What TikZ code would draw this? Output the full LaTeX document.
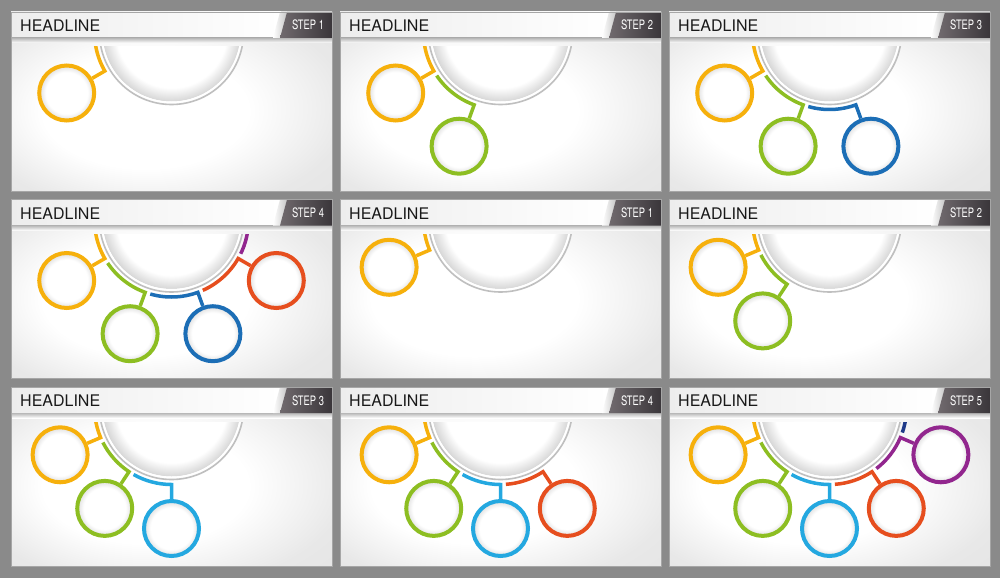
\documentclass[tikz,border=0pt]{standalone}
\usepackage{fontspec}
\newfontfamily\headfont{TeX Gyre Heros}
\newfontfamily\stepfont[FakeStretch=0.72]{TeX Gyre Heros}
\usepackage{tikz}
\definecolor{corange}{RGB}{246,176,12}
\definecolor{cgreen}{RGB}{141,190,34}
\definecolor{cblue}{RGB}{28,110,182}
\definecolor{ccyan}{RGB}{36,168,224}
\definecolor{cred}{RGB}{230,78,30}
\definecolor{cpurple}{RGB}{146,38,142}
\definecolor{cnavy}{RGB}{30,58,136}
\definecolor{backgray}{RGB}{138,138,138}
\definecolor{tabl}{RGB}{112,106,110}
\definecolor{tabr}{RGB}{58,54,58}
\pgfdeclareradialshading{discshade}{\pgfpoint{0bp}{0bp}}{color(0bp)=(white); color(20bp)=(white); color(25bp)=(black!16); color(50bp)=(black!16)}
\pgfdeclareradialshading{ringshade}{\pgfpoint{0bp}{0bp}}{color(0bp)=(white); color(19bp)=(white); color(25bp)=(black!13); color(50bp)=(black!13)}
\pgfdeclareradialshading{panelshade}{\pgfpoint{-6bp}{-4bp}}{color(0bp)=(white); color(16bp)=(white); color(30bp)=(black!9); color(50bp)=(black!12)}
\tikzstyle{ring}=[circle, minimum size=55pt, inner sep=0pt, line width=4pt, shade, shading=ringshade]
\tikzstyle{ringorange}=[ring, draw=corange]
\tikzstyle{ringgreen}=[ring, draw=cgreen]
\tikzstyle{ringblue}=[ring, draw=cblue]
\tikzstyle{ringcyan}=[ring, draw=ccyan]
\tikzstyle{ringred}=[ring, draw=cred]
\tikzstyle{ringpurple}=[ring, draw=cpurple]
\tikzstyle{arcorange}=[draw=corange, line width=3.5pt]
\tikzstyle{arcgreen}=[draw=cgreen, line width=3.5pt]
\tikzstyle{arcblue}=[draw=cblue, line width=3.5pt]
\tikzstyle{arccyan}=[draw=ccyan, line width=3.5pt]
\tikzstyle{arcred}=[draw=cred, line width=3.5pt]
\tikzstyle{arcpurple}=[draw=cpurple, line width=3.5pt]
\tikzstyle{arcnavy}=[draw=cnavy, line width=3.5pt]
\tikzstyle{headline}=[font=\headfont\fontsize{16pt}{16pt}\selectfont, inner sep=0pt, text=black!90]
\tikzstyle{steplabel}=[font=\stepfont\fontsize{13pt}{13pt}\selectfont, inner sep=0pt, text=white]
\newcommand{\panelframe}[2]{%
  \shade[shading=panelshade] (0,0) rectangle (321,179);
  \shade[left color=black!7, right color=white] (0,0) rectangle (270,26);
  \shade[top color=black!28, bottom color=white] (0,26) rectangle (321,31);
  \shade[left color=white, right color=black!22] (262,26) -- (269,0) -- (276,0) -- (269,26) -- cycle;
  \shade[left color=tabl, right color=tabr] (269,26) -- (276,0) -- (321,0) -- (321,26) -- cycle;
  \draw[black!35, line width=0.8pt] (0,0) rectangle (321,179);
  \node[headline, anchor=base west] (#1head) at (9,19.5) {HEADLINE};
  \node[steplabel, anchor=base] (#1step) at (297,18) {#2};
}
\newcommand{\bigdisc}{%
  \shade[shading=discshade] (0,0) circle[radius=69];
  \draw[white, line width=2pt] (0,0) circle[radius=70];
  \draw[black!25, line width=1.6pt] (0,0) circle[radius=72];
}
\begin{document}
\begin{tikzpicture}[x=1pt, y=-1pt]
  \useasboundingbox (0,0) rectangle (1000,578);
  \fill[backgray] (0,0) rectangle (1000,578);

  \begin{scope}[shift={(11,12)}]
    \panelframe{p1}{STEP 1}
    \begin{scope}[shift={(160.5,20.5)}]
      \clip (-170,14.5) rectangle (170,170);
      \bigdisc
      \node[ringorange] (p1o) at (150:121) {};
      \draw[arcorange] (190:77) arc[start angle=190, end angle=150, radius=77] -- (p1o);
    \end{scope}
  \end{scope}

  \begin{scope}[shift={(340,12)}]
    \panelframe{p2}{STEP 2}
    \begin{scope}[shift={(160.5,20.5)}]
      \clip (-170,14.5) rectangle (170,170);
      \bigdisc
      \node[ringorange] (p2o) at (150:121) {};
      \node[ringgreen] (p2g) at (110:121) {};
      \draw[arcorange] (190:77) arc[start angle=190, end angle=150, radius=77] -- (p2o);
      \draw[arcgreen] (146:77) arc[start angle=146, end angle=110, radius=77] -- (p2g);
    \end{scope}
  \end{scope}

  \begin{scope}[shift={(669,12)}]
    \panelframe{p3}{STEP 3}
    \begin{scope}[shift={(160.5,20.5)}]
      \clip (-170,14.5) rectangle (170,170);
      \bigdisc
      \node[ringorange] (p3o) at (150:121) {};
      \node[ringgreen] (p3g) at (110:121) {};
      \node[ringblue] (p3b) at (70:121) {};
      \draw[arcorange] (190:77) arc[start angle=190, end angle=150, radius=77] -- (p3o);
      \draw[arcgreen] (146:77) arc[start angle=146, end angle=110, radius=77] -- (p3g);
      \draw[arcblue] (106:77) arc[start angle=106, end angle=70, radius=77] -- (p3b);
    \end{scope}
  \end{scope}

  \begin{scope}[shift={(11,199.5)}]
    \panelframe{p4}{STEP 4}
    \begin{scope}[shift={(160.5,20.5)}]
      \clip (-170,14.5) rectangle (170,170);
      \bigdisc
      \node[ringorange] (p4o) at (150:121) {};
      \node[ringgreen] (p4g) at (110:121) {};
      \node[ringblue] (p4b) at (70:121) {};
      \node[ringred] (p4r) at (30:121) {};
      \draw[arcorange] (190:77) arc[start angle=190, end angle=150, radius=77] -- (p4o);
      \draw[arcgreen] (146:77) arc[start angle=146, end angle=110, radius=77] -- (p4g);
      \draw[arcblue] (106:77) arc[start angle=106, end angle=70, radius=77] -- (p4b);
      \draw[arcred] (66:77) arc[start angle=66, end angle=30, radius=77] -- (p4r);
      \draw[arcpurple] (26:77) arc[start angle=26, end angle=0, radius=77];
    \end{scope}
  \end{scope}

  \begin{scope}[shift={(340,199.5)}]
    \panelframe{p5}{STEP 1}
    \begin{scope}[shift={(160.5,20.5)}]
      \clip (-170,14.5) rectangle (170,170);
      \bigdisc
      \node[ringorange] (p5o) at (157:121) {};
      \draw[arcorange] (190:77) arc[start angle=190, end angle=157, radius=77] -- (p5o);
    \end{scope}
  \end{scope}

  \begin{scope}[shift={(669,199.5)}]
    \panelframe{p6}{STEP 2}
    \begin{scope}[shift={(160.5,20.5)}]
      \clip (-170,14.5) rectangle (170,170);
      \bigdisc
      \node[ringorange] (p6o) at (157:121) {};
      \node[ringgreen] (p6g) at (123.5:121) {};
      \draw[arcorange] (190:77) arc[start angle=190, end angle=157, radius=77] -- (p6o);
      \draw[arcgreen] (153:77) arc[start angle=153, end angle=123.5, radius=77] -- (p6g);
    \end{scope}
  \end{scope}

  \begin{scope}[shift={(11,387)}]
    \panelframe{p7}{STEP 3}
    \begin{scope}[shift={(160.5,20.5)}]
      \clip (-170,14.5) rectangle (170,170);
      \bigdisc
      \node[ringorange] (p7o) at (157:121) {};
      \node[ringgreen] (p7g) at (123.5:121) {};
      \node[ringcyan] (p7c) at (90:121) {};
      \draw[arcorange] (190:77) arc[start angle=190, end angle=157, radius=77] -- (p7o);
      \draw[arcgreen] (153:77) arc[start angle=153, end angle=123.5, radius=77] -- (p7g);
      \draw[arccyan] (119.5:77) arc[start angle=119.5, end angle=90, radius=77] -- (p7c);
    \end{scope}
  \end{scope}

  \begin{scope}[shift={(340,387)}]
    \panelframe{p8}{STEP 4}
    \begin{scope}[shift={(160.5,20.5)}]
      \clip (-170,14.5) rectangle (170,170);
      \bigdisc
      \node[ringorange] (p8o) at (157:121) {};
      \node[ringgreen] (p8g) at (123.5:121) {};
      \node[ringcyan] (p8c) at (90:121) {};
      \node[ringred] (p8r) at (56.5:121) {};
      \draw[arcorange] (190:77) arc[start angle=190, end angle=157, radius=77] -- (p8o);
      \draw[arcgreen] (153:77) arc[start angle=153, end angle=123.5, radius=77] -- (p8g);
      \draw[arccyan] (119.5:77) arc[start angle=119.5, end angle=90, radius=77] -- (p8c);
      \draw[arcred] (86:77) arc[start angle=86, end angle=56.5, radius=77] -- (p8r);
    \end{scope}
  \end{scope}

  \begin{scope}[shift={(669,387)}]
    \panelframe{p9}{STEP 5}
    \begin{scope}[shift={(160.5,20.5)}]
      \clip (-170,14.5) rectangle (170,170);
      \bigdisc
      \node[ringorange] (p9o) at (157:121) {};
      \node[ringgreen] (p9g) at (123.5:121) {};
      \node[ringcyan] (p9c) at (90:121) {};
      \node[ringred] (p9r) at (56.5:121) {};
      \node[ringpurple] (p9p) at (23:121) {};
      \draw[arcorange] (190:77) arc[start angle=190, end angle=157, radius=77] -- (p9o);
      \draw[arcgreen] (153:77) arc[start angle=153, end angle=123.5, radius=77] -- (p9g);
      \draw[arccyan] (119.5:77) arc[start angle=119.5, end angle=90, radius=77] -- (p9c);
      \draw[arcred] (86:77) arc[start angle=86, end angle=56.5, radius=77] -- (p9r);
      \draw[arcpurple] (52.5:77) arc[start angle=52.5, end angle=23, radius=77] -- (p9p);
      \draw[arcnavy] (19:77) arc[start angle=19, end angle=0, radius=77];
    \end{scope}
  \end{scope}
\end{tikzpicture}
\end{document}
